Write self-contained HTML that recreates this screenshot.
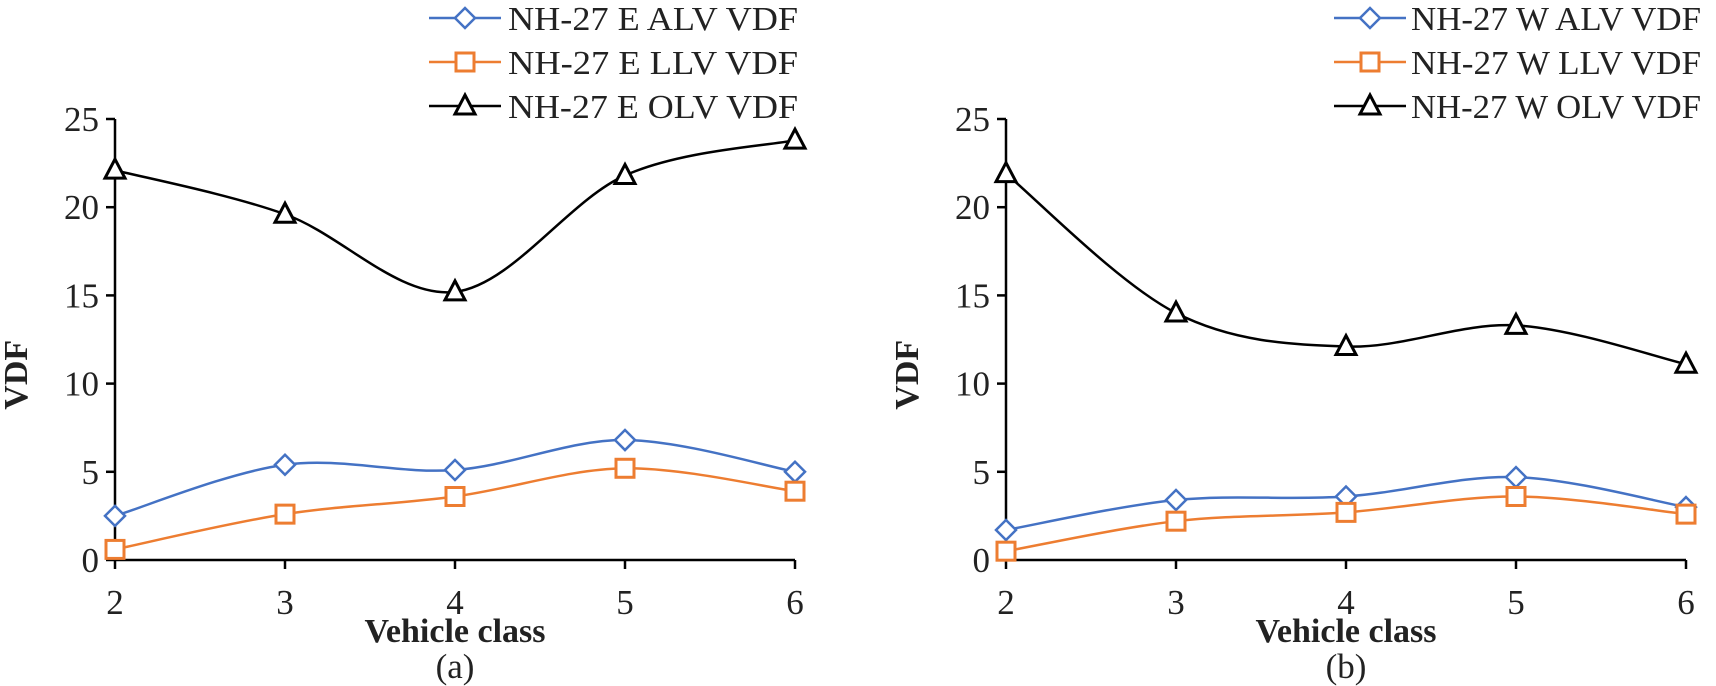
<!DOCTYPE html>
<html><head><meta charset="utf-8"><style>
html,body{margin:0;padding:0;background:#fff;}
svg{display:block;}
text{font-family:"Liberation Serif",serif;fill:#222;}
</style></head><body>
<svg id="s" width="1716" height="686" viewBox="0 0 1716 686" xmlns="http://www.w3.org/2000/svg"></svg>
<script>
const s=document.getElementById('s');let h='';
const Y0=560,PU=17.64;
function chart(ax,data,names,lx,ltx,label){
  const X=i=>ax+i*170, Y=v=>Y0-v*PU;
  h+=`<line x1="${ax}" y1="${Y0-25*PU}" x2="${ax}" y2="${Y0}" stroke="#000" stroke-width="2.5"/>`;
  h+=`<line x1="${ax}" y1="${Y0}" x2="${ax+680}" y2="${Y0}" stroke="#000" stroke-width="2.5"/>`;
  for(let v=0;v<=25;v+=5){h+=`<line x1="${ax-9}" y1="${Y(v)}" x2="${ax}" y2="${Y(v)}" stroke="#000" stroke-width="2.5"/>`;
    h+=`<text x="${ax-16}" y="${Y(v)+12}" font-size="35" text-anchor="end">${v}</text>`;}
  for(let i=0;i<5;i++){h+=`<line x1="${X(i)}" y1="${Y0}" x2="${X(i)}" y2="${Y0+9}" stroke="#000" stroke-width="2.5"/>`;
    h+=`<text x="${X(i)}" y="${Y0+54}" font-size="35" text-anchor="middle">${i+2}</text>`;}
  h+=`<text x="${ax+340}" y="${Y0+82}" font-size="34" font-weight="bold" text-anchor="middle">Vehicle class</text>`;
  h+=`<text x="${ax+340}" y="${Y0+118}" font-size="35" text-anchor="middle">${label}</text>`;
  h+=`<text transform="translate(${ax-88},${Y(10.5)}) rotate(-90)" font-size="34" font-weight="bold" text-anchor="middle">VDF</text>`;
  const cols=['#4472C4','#ED7D31','#000'];
  data.forEach((d,k)=>{
    const P=d.map((v,i)=>[X(i),Y(v)]);
    let p=`M${P[0][0]},${P[0][1]}`;
    for(let i=0;i<P.length-1;i++){
      const p0=P[Math.max(i-1,0)],p1=P[i],p2=P[i+1],p3=P[Math.min(i+2,P.length-1)];
      const c1=[p1[0]+(p2[0]-p0[0])/6,p1[1]+(p2[1]-p0[1])/6];
      const c2=[p2[0]-(p3[0]-p1[0])/6,p2[1]-(p3[1]-p1[1])/6];
      p+=` C${c1[0]},${c1[1]} ${c2[0]},${c2[1]} ${p2[0]},${p2[1]}`;
    }
    h+=`<path d="${p}" fill="none" stroke="${cols[k]}" stroke-width="2.5"/>`;
    P.forEach(q=>h+=marker(k,q[0],q[1],cols[k]));
    const ly=[18,62,106][k];
    h+=`<line x1="${lx}" y1="${ly}" x2="${lx+72}" y2="${ly}" stroke="${cols[k]}" stroke-width="2.5"/>`;
    h+=marker(k,lx+36,ly,cols[k]);
    h+=`<text x="${ltx}" y="${ly+12}" font-size="34" textLength="290" lengthAdjust="spacingAndGlyphs">${names[k]}</text>`;
  });
}
function marker(k,x,y,c){
  if(k==0)return `<polygon points="${x},${y-10} ${x+10},${y} ${x},${y+10} ${x-10},${y}" fill="#fff" stroke="${c}" stroke-width="2.5"/>`;
  if(k==1)return `<rect x="${x-9}" y="${y-9}" width="18" height="18" fill="#fff" stroke="${c}" stroke-width="3"/>`;
  return `<polygon points="${x},${y-11} ${x+10},${y+8} ${x-10},${y+8}" fill="#fff" stroke="${c}" stroke-width="3"/>`;
}
chart(115,[[2.5,5.4,5.1,6.8,5.0],[0.6,2.6,3.6,5.2,3.9],[22.1,19.6,15.2,21.8,23.8]],
 ['NH-27 E ALV VDF','NH-27 E LLV VDF','NH-27 E OLV VDF'],429,508,'(a)');
chart(1006,[[1.7,3.4,3.6,4.7,3.0],[0.5,2.2,2.7,3.6,2.6],[21.9,14.0,12.1,13.3,11.1]],
 ['NH-27 W ALV VDF','NH-27 W LLV VDF','NH-27 W OLV VDF'],1334,1411,'(b)');
s.innerHTML=h;
</script>
</body></html>
